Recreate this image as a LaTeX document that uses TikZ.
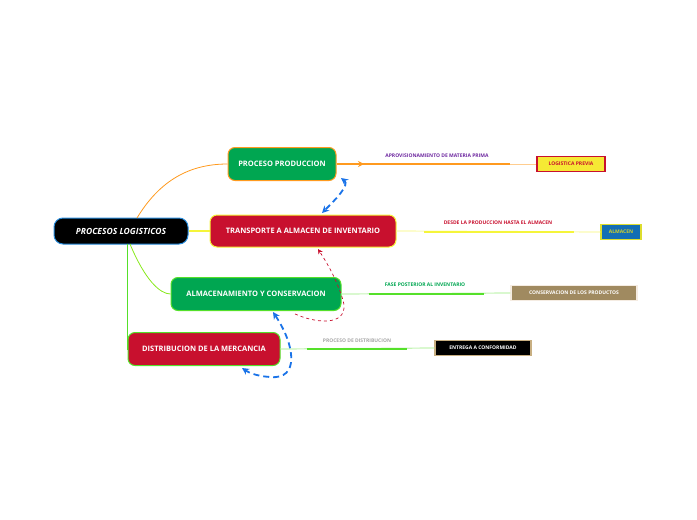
\documentclass[tikz,border=0pt]{standalone}
\usepackage{fontspec}
\setmainfont{Open Sans}
\usetikzlibrary{arrows.meta}
\definecolor{gr}{HTML}{00A651}
\definecolor{rd}{HTML}{C8102E}
\definecolor{org}{HTML}{FF9A1F}
\definecolor{yl}{HTML}{F5F53A}
\definecolor{lg}{HTML}{55E02A}
\definecolor{bl}{HTML}{1A73E8}
\tikzset{
 main/.style={rounded corners=7pt,minimum height=33pt,text=white,font=\bfseries\fontsize{7.5}{8}\selectfont,line width=1pt,inner sep=3pt},
 leaf/.style={minimum height=15pt,inner sep=3pt,line width=1.2pt,font=\bfseries\fontsize{5}{6}\selectfont},
 lab/.style={font=\bfseries\fontsize{5}{6}\selectfont},
 dbl/.style={bl,dashed,line width=1.8pt,dash pattern=on 6pt off 4pt,{Stealth[length=7pt,width=7pt]}-{Stealth[length=7pt,width=7pt]}}
}
\begin{document}
\begin{tikzpicture}[x=1pt,y=-1pt]
\useasboundingbox (0,0) rectangle (697,520);
\node[rounded corners=9pt,fill=black,draw={rgb,255:red,40;green,140;blue,220},line width=1pt,minimum width=134pt,minimum height=26pt,text=white,font=\bfseries\itshape\fontsize{8.5}{9}\selectfont] (root) at (121,231) {PROCESOS LOGISTICOS};
\node[main,fill=gr,draw=org,minimum width=108pt] (pp) at (282,164) {PROCESO PRODUCCION};
\node[main,fill=rd,draw=yl,minimum width=186pt,minimum height=32pt] (tr) at (303,231) {TRANSPORTE A ALMACEN DE INVENTARIO};
\node[main,fill=gr,draw=lg,minimum width=170pt] (al) at (256,294) {ALMACENAMIENTO Y CONSERVACION};
\node[main,fill=rd,draw=lg,minimum width=152pt] (di) at (204,349) {DISTRIBUCION DE LA MERCANCIA};
\node[leaf,fill=yl!90!orange,draw=rd,text=rd,minimum width=68pt] (lp) at (571,164) {LOGISTICA PREVIA};
\node[leaf,fill={rgb,255:red,20;green,110;blue,180},draw=yl!80!olive,text=yl!70!olive,minimum width=40pt] (am) at (621,232) {ALMACEN};
\node[leaf,fill={rgb,255:red,160;green,138;blue,96},draw=white!85!brown,text=white,minimum width=126pt] (cp) at (574,293) {CONSERVACION DE LOS PRODUCTOS};
\node[leaf,fill=black,draw={rgb,255:red,200;green,175;blue,130},text=white,minimum width=96pt] (en) at (483,348) {ENTREGA A CONFORMIDAD};
% root branches
\draw[org,line width=0.8pt] (137,218) .. controls (160,180) and (190,164) .. (pp.west);
\draw[yl,line width=1.2pt] (root.east) -- (tr.west);
\draw[lg!70!yellow,line width=0.8pt] (130,244) .. controls (145,280) and (160,294) .. (al.west);
\draw[lg,line width=1pt] (127,244) -- (127,349) -- (di.west);
% side branches
\draw[org,line width=1.2pt] (pp.east) -- (510,164);
\draw[org!50,line width=1pt] (510,164) -- (lp.west);
\draw[org,line width=1.2pt,-{Stealth[length=6pt,width=6pt]}] (pp.east) -- (364,164);
\node[lab,text={rgb,255:red,110;green,40;blue,160}] (l1) at (437,156) {APROVISIONAMIENTO DE MATERIA PRIMA};
\draw[yl!40,line width=1.2pt] (tr.east) -- (am.west);
\draw[yl,line width=1.5pt] (424,232) -- (574,232);
\node[lab,text=rd] (l2) at (498,223) {DESDE LA PRODUCCION HASTA EL ALMACEN};
\draw[lg!35,line width=1.2pt] (al.east) -- (cp.west);
\draw[lg,line width=1.5pt] (369,294) -- (484,294);
\node[lab,text=gr] (l3) at (425,285) {FASE POSTERIOR AL INVENTARIO};
\draw[lg!35,line width=1.2pt] (di.east) -- (en.west);
\draw[lg,line width=1.5pt] (307,349) -- (407,349);
\node[lab,text=gray!70] (l4) at (357,341) {PROCESO DE DISTRIBUCION};
% cross links
\draw[dbl] (341,178) .. controls (350,185) and (335,200) .. (322,213);
\draw[rd,dashed,line width=0.7pt,-{Stealth[length=5pt,width=5pt]}] (295,314) .. controls (320,325) and (350,325) .. (343,300) .. controls (335,275) and (325,260) .. (318,249);
\draw[dbl] (273,312) .. controls (295,345) and (300,380) .. (270,377) .. controls (255,376) and (248,372) .. (242,368);
\end{tikzpicture}
\end{document}
